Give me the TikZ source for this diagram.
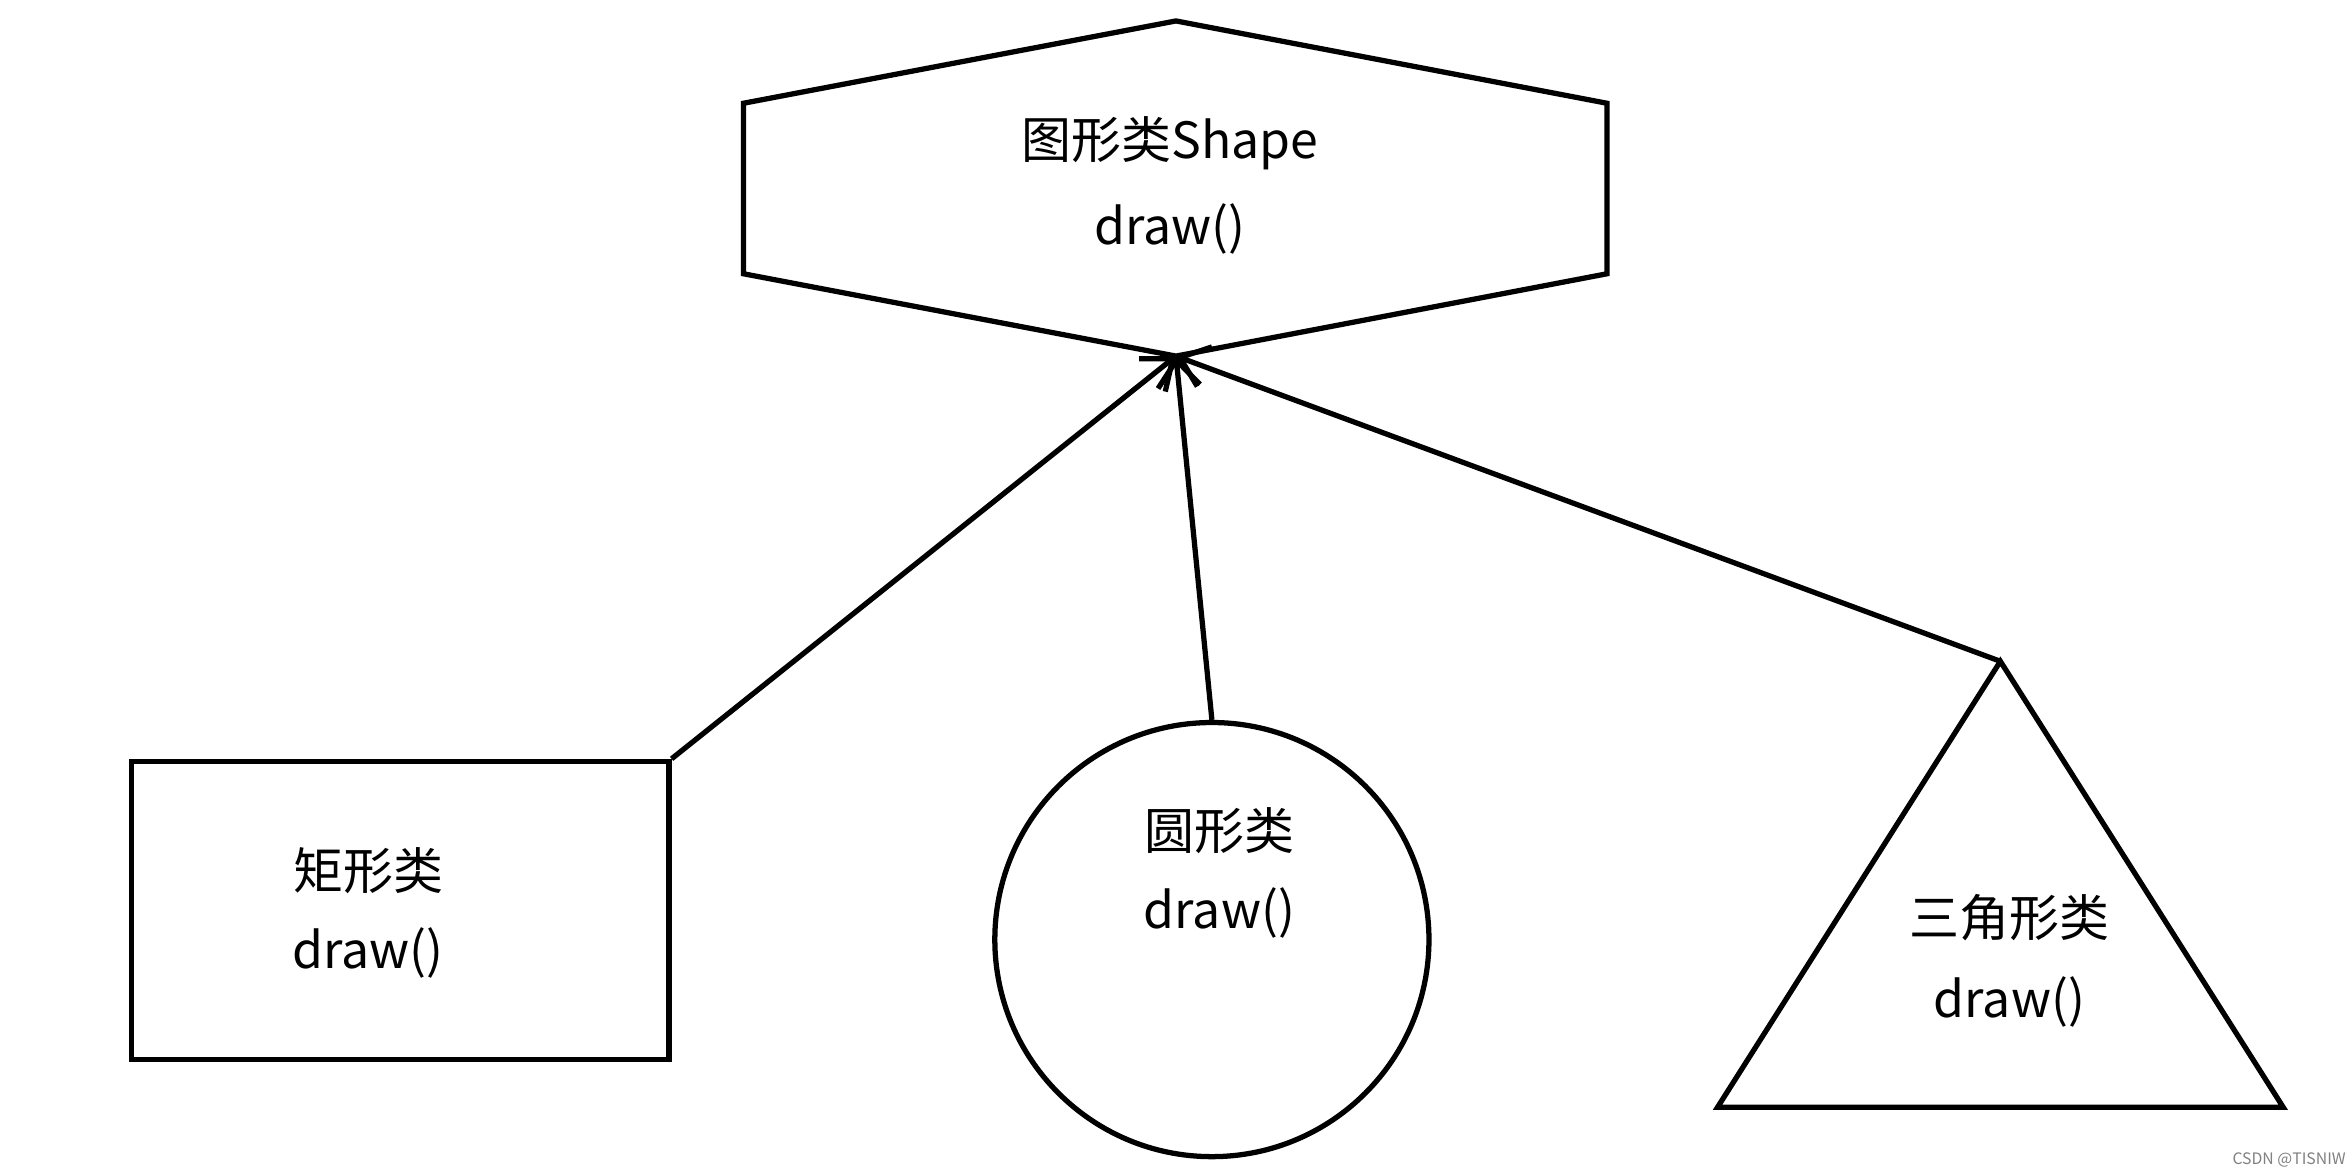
\documentclass[tikz,border=0pt]{standalone}
\usepackage{fontspec}
\setmainfont{Noto Sans CJK SC}
\usetikzlibrary{arrows.meta}
\begin{document}
\begin{tikzpicture}[x=0.01cm,y=-0.01cm]
\tikzset{forme/.style={draw, line width=1pt},
  texte/.style={font=\fontsize{9.5pt}{11pt}\selectfont, align=center},
  fleche/.style={line width=1pt, -{Straight Barb[length=5pt,width=8pt]}}}
\useasboundingbox (0,0) rectangle (1568,785);
% classe de base
\draw[forme] (497,69) -- (786,14) -- (1074,69) -- (1074,183) -- (786,238) -- (497,183) -- cycle;
\coordinate (S) at (786,238);
\node[texte] (T1) at (782,96) {图形类Shape};
\node[texte] (T2) at (782,153) {draw()};
% sous-classes
\node[forme, minimum width=3.59cm, minimum height=1.99cm] (R) at (267.5,608.5) {};
\node[texte] (R1) at (246,582) {矩形类};
\node[texte] (R2) at (246,637) {draw()};
\node[forme, circle, minimum size=2.9cm] (C) at (810,628) {};
\node[texte] (C1) at (815,555) {圆形类};
\node[texte] (C2) at (815,610) {draw()};
\coordinate (A) at (1337,442);
\coordinate (B1) at (1148,740);
\coordinate (B2) at (1526,740);
\draw[forme] (A) -- (B2) -- (B1) -- cycle;
\node[texte] (D1) at (1343,613) {三角形类};
\node[texte] (D2) at (1343,670) {draw()};
\draw[fleche] (R.north east) -- (S);
\draw[fleche] (C.north) -- (S);
\draw[fleche] (A) -- (S);
\node[font=\fontsize{3pt}{4pt}\selectfont, text=gray] (W) at (1530,775) {CSDN @TISNIW};
\end{tikzpicture}
\end{document}
